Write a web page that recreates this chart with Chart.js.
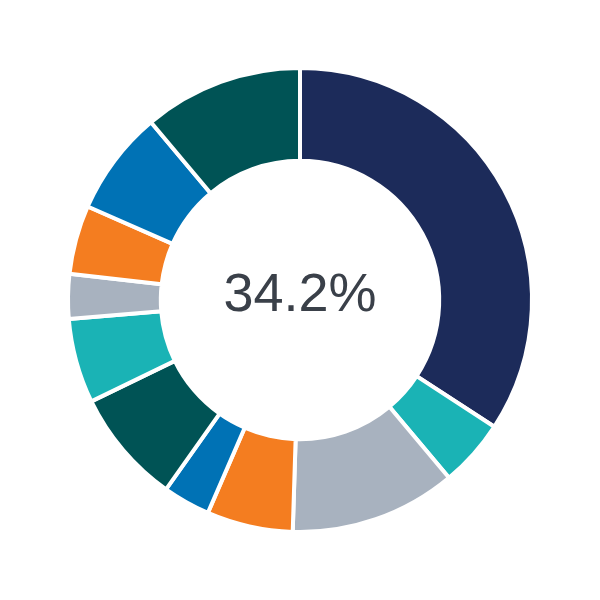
<!DOCTYPE html>
<html><head><meta charset="utf-8">
<script src="https://cdn.jsdelivr.net/npm/chart.js@4/dist/chart.umd.min.js"></script>
<style>html,body{margin:0;padding:0;background:#fff}#wrap{width:600px;height:600px;position:relative}</style>
</head><body><div id="wrap"><canvas id="c" width="600" height="600"></canvas></div>
<script>
const categories = ["A","B","C","D","E","F","G","H","I","J","K"];
const values = [34.2, 4.7, 11.6, 6.0, 3.3, 8.0, 5.9, 3.1, 4.8, 7.3, 11.1];
const colors = ["#1c2b5a","#1ab3b5","#a8b2bf","#f47d20","#0072b5","#005355","#1ab3b5","#a8b2bf","#f47d20","#0072b5","#005355"];
const centerLabel = "34.2%";

const centerText = {
  id: 'centerText',
  afterDraw(chart) {
    const {ctx} = chart;
    const m = chart.getDatasetMeta(0).data[0];
    ctx.save();
    ctx.font = '54px "Liberation Sans", Arial, sans-serif';
    ctx.fillStyle = '#3a4049';
    ctx.textAlign = 'center';
    ctx.textBaseline = 'middle';
    ctx.fillText(centerLabel, m.x, m.y - 4);
    ctx.restore();
  }
};

new Chart(document.getElementById('c'), {
  type: 'doughnut',
  data: { labels: categories, datasets: [{ data: values, backgroundColor: colors, borderColor: '#ffffff', borderWidth: 4 }] },
  options: {
    responsive: false, animation: false, cutout: '60%',
    layout: { padding: 66 },
    plugins: { legend: { display: false }, tooltip: { enabled: false } }
  },
  plugins: [centerText]
});
</script></body></html>
